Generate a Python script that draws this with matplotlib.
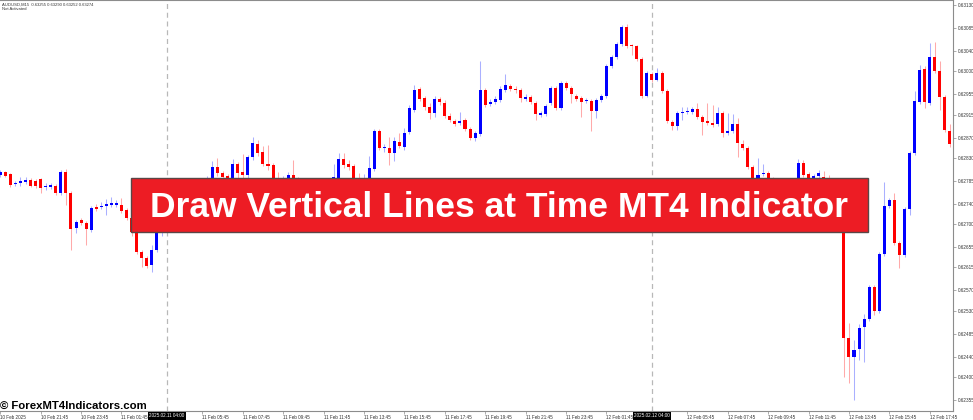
import numpy as np
import matplotlib
matplotlib.use('Agg')
import matplotlib.pyplot as plt
import matplotlib.transforms as mtransforms
from matplotlib.patches import Rectangle

# AUDUSD M15 candles, bar 0 = 10 Feb 19:45
opens = [0.62796, 0.62802, 0.62798, 0.62779, 0.62781, 0.62783, 0.62787, 0.62785, 0.62789, 0.62773,
         0.62773, 0.62775, 0.62761, 0.62802, 0.62761, 0.62692, 0.62708, 0.62702, 0.62689, 0.62734,
         0.62734, 0.62736, 0.62738, 0.62738, 0.62738, 0.62728, 0.62712, 0.62685, 0.62645, 0.62634,
         0.62620, 0.62649, 0.62683, 0.62718, 0.62708, 0.62738, 0.62757, 0.62747, 0.62767, 0.62755,
         0.62777, 0.62767, 0.62791, 0.62812, 0.62800, 0.62795, 0.62791, 0.62818, 0.62802, 0.62796,
         0.62832, 0.62857, 0.62842, 0.62818, 0.62816, 0.62783, 0.62771, 0.62779, 0.62796, 0.62783,
         0.62767, 0.62775, 0.62759, 0.62771, 0.62763, 0.62779, 0.62771, 0.62791, 0.62828, 0.62818,
         0.62814, 0.62787, 0.62771, 0.62783, 0.62808, 0.62883, 0.62849, 0.62849, 0.62840, 0.62861,
         0.62851, 0.62881, 0.62924, 0.62965, 0.62948, 0.62930, 0.62918, 0.62946, 0.62938, 0.62912,
         0.62902, 0.62898, 0.62904, 0.62887, 0.62869, 0.62877, 0.62963, 0.62936, 0.62940, 0.62944,
         0.62963, 0.62971, 0.62965, 0.62963, 0.62946, 0.62950, 0.62938, 0.62914, 0.62916, 0.62938,
         0.62967, 0.62928, 0.62977, 0.62967, 0.62951, 0.62948, 0.62942, 0.62942, 0.62922, 0.62944,
         0.62951, 0.63010, 0.63028, 0.63053, 0.63087, 0.63051, 0.63050, 0.63024, 0.62951, 0.62995,
         0.62983, 0.62997, 0.62961, 0.62900, 0.62893, 0.62918, 0.62920, 0.62920, 0.62926, 0.62910,
         0.62902, 0.62898, 0.62897, 0.62918, 0.62879, 0.62883, 0.62897, 0.62857, 0.62849, 0.62812,
         0.62785, 0.62798, 0.62800, 0.62789, 0.62767, 0.62755, 0.62771, 0.62761, 0.62781, 0.62820,
         0.62798, 0.62787, 0.62795, 0.62793, 0.62791, 0.62781, 0.62787, 0.62775, 0.62477, 0.62439,
         0.62455, 0.62498, 0.62514, 0.62577, 0.62530, 0.62641, 0.62736, 0.62747, 0.62663, 0.62639,
         0.62730, 0.62840, 0.62940, 0.63004, 0.62938, 0.63028, 0.63000, 0.62950, 0.62883]
highs = [0.62806, 0.62804, 0.62800, 0.62785, 0.62793, 0.62793, 0.62791, 0.62789, 0.62791, 0.62781,
         0.62781, 0.62779, 0.62806, 0.62808, 0.62765, 0.62708, 0.62712, 0.62706, 0.62736, 0.62740,
         0.62743, 0.62749, 0.62753, 0.62747, 0.62751, 0.62732, 0.62716, 0.62689, 0.62649, 0.62637,
         0.62659, 0.62689, 0.62722, 0.62724, 0.62742, 0.62761, 0.62763, 0.62771, 0.62773, 0.62781,
         0.62783, 0.62795, 0.62824, 0.62830, 0.62804, 0.62798, 0.62828, 0.62822, 0.62838, 0.62836,
         0.62871, 0.62865, 0.62853, 0.62855, 0.62820, 0.62802, 0.62795, 0.62802, 0.62826, 0.62793,
         0.62783, 0.62781, 0.62777, 0.62775, 0.62785, 0.62783, 0.62818, 0.62840, 0.62840, 0.62826,
         0.62818, 0.62800, 0.62798, 0.62834, 0.62887, 0.62887, 0.62857, 0.62871, 0.62871, 0.62879,
         0.62889, 0.62934, 0.62973, 0.62969, 0.62951, 0.62938, 0.62951, 0.62950, 0.62944, 0.62918,
         0.62906, 0.62920, 0.62908, 0.62891, 0.62883, 0.63020, 0.62967, 0.62946, 0.62951, 0.62971,
         0.62995, 0.62975, 0.62971, 0.62967, 0.62955, 0.62953, 0.62942, 0.62922, 0.62936, 0.62971,
         0.62971, 0.62981, 0.62981, 0.62971, 0.62955, 0.62951, 0.62948, 0.62946, 0.62948, 0.62955,
         0.63014, 0.63032, 0.63057, 0.63091, 0.63093, 0.63053, 0.63051, 0.63028, 0.63000, 0.62999,
         0.63006, 0.63000, 0.62965, 0.62904, 0.62922, 0.62930, 0.62930, 0.62930, 0.62938, 0.62914,
         0.62938, 0.62934, 0.62930, 0.62922, 0.62918, 0.62916, 0.62908, 0.62865, 0.62853, 0.62816,
         0.62830, 0.62818, 0.62804, 0.62793, 0.62773, 0.62777, 0.62775, 0.62791, 0.62828, 0.62826,
         0.62802, 0.62798, 0.62806, 0.62804, 0.62796, 0.62791, 0.62791, 0.62781, 0.62506, 0.62473,
         0.62504, 0.62524, 0.62581, 0.62581, 0.62645, 0.62783, 0.62751, 0.62761, 0.62667, 0.62734,
         0.62844, 0.62961, 0.63012, 0.63010, 0.63055, 0.63057, 0.63020, 0.62953, 0.62897]
lows = [0.62793, 0.62793, 0.62773, 0.62775, 0.62775, 0.62779, 0.62773, 0.62771, 0.62761, 0.62767,
        0.62769, 0.62757, 0.62757, 0.62738, 0.62649, 0.62683, 0.62698, 0.62659, 0.62685, 0.62726,
        0.62730, 0.62718, 0.62734, 0.62734, 0.62722, 0.62708, 0.62677, 0.62641, 0.62616, 0.62614,
        0.62606, 0.62645, 0.62677, 0.62704, 0.62702, 0.62732, 0.62742, 0.62743, 0.62749, 0.62751,
        0.62761, 0.62763, 0.62783, 0.62795, 0.62787, 0.62783, 0.62783, 0.62791, 0.62787, 0.62791,
        0.62826, 0.62834, 0.62814, 0.62806, 0.62777, 0.62763, 0.62763, 0.62775, 0.62777, 0.62757,
        0.62761, 0.62753, 0.62755, 0.62757, 0.62759, 0.62765, 0.62763, 0.62787, 0.62810, 0.62806,
        0.62777, 0.62763, 0.62767, 0.62779, 0.62804, 0.62846, 0.62842, 0.62816, 0.62824, 0.62849,
        0.62846, 0.62877, 0.62920, 0.62942, 0.62924, 0.62906, 0.62910, 0.62934, 0.62908, 0.62900,
        0.62893, 0.62895, 0.62883, 0.62865, 0.62863, 0.62873, 0.62930, 0.62932, 0.62936, 0.62940,
        0.62959, 0.62961, 0.62957, 0.62940, 0.62942, 0.62936, 0.62904, 0.62910, 0.62912, 0.62934,
        0.62924, 0.62924, 0.62963, 0.62938, 0.62942, 0.62910, 0.62938, 0.62883, 0.62908, 0.62940,
        0.62948, 0.63006, 0.63024, 0.63050, 0.63046, 0.63032, 0.63020, 0.62948, 0.62950, 0.62979,
        0.62981, 0.62957, 0.62898, 0.62885, 0.62885, 0.62904, 0.62916, 0.62916, 0.62906, 0.62875,
        0.62895, 0.62891, 0.62893, 0.62871, 0.62875, 0.62879, 0.62832, 0.62846, 0.62808, 0.62779,
        0.62779, 0.62795, 0.62777, 0.62761, 0.62749, 0.62751, 0.62755, 0.62757, 0.62775, 0.62793,
        0.62783, 0.62781, 0.62787, 0.62785, 0.62775, 0.62773, 0.62767, 0.62400, 0.62388, 0.62355,
        0.62434, 0.62430, 0.62510, 0.62522, 0.62526, 0.62637, 0.62732, 0.62659, 0.62614, 0.62636,
        0.62718, 0.62836, 0.62936, 0.62928, 0.62934, 0.62997, 0.62924, 0.62881, 0.62851]
closes = [0.62802, 0.62795, 0.62777, 0.62781, 0.62785, 0.62787, 0.62775, 0.62775, 0.62771, 0.62775,
          0.62777, 0.62761, 0.62802, 0.62761, 0.62691, 0.62704, 0.62702, 0.62691, 0.62732, 0.62730,
          0.62736, 0.62740, 0.62742, 0.62742, 0.62726, 0.62712, 0.62685, 0.62645, 0.62634, 0.62618,
          0.62649, 0.62683, 0.62718, 0.62708, 0.62738, 0.62757, 0.62747, 0.62767, 0.62755, 0.62777,
          0.62767, 0.62791, 0.62812, 0.62800, 0.62793, 0.62791, 0.62818, 0.62800, 0.62796, 0.62832,
          0.62859, 0.62840, 0.62818, 0.62814, 0.62783, 0.62771, 0.62781, 0.62796, 0.62783, 0.62767,
          0.62775, 0.62759, 0.62771, 0.62763, 0.62779, 0.62769, 0.62793, 0.62828, 0.62816, 0.62812,
          0.62787, 0.62771, 0.62783, 0.62810, 0.62883, 0.62849, 0.62851, 0.62840, 0.62863, 0.62853,
          0.62879, 0.62928, 0.62963, 0.62946, 0.62930, 0.62918, 0.62946, 0.62940, 0.62912, 0.62904,
          0.62897, 0.62902, 0.62887, 0.62869, 0.62879, 0.62963, 0.62934, 0.62940, 0.62946, 0.62965,
          0.62973, 0.62965, 0.62963, 0.62948, 0.62950, 0.62940, 0.62916, 0.62918, 0.62932, 0.62967,
          0.62928, 0.62977, 0.62967, 0.62955, 0.62946, 0.62940, 0.62944, 0.62922, 0.62944, 0.62951,
          0.63010, 0.63028, 0.63053, 0.63087, 0.63050, 0.63050, 0.63024, 0.62951, 0.62997, 0.62983,
          0.62997, 0.62961, 0.62902, 0.62893, 0.62918, 0.62920, 0.62922, 0.62926, 0.62910, 0.62900,
          0.62898, 0.62895, 0.62918, 0.62879, 0.62883, 0.62897, 0.62859, 0.62849, 0.62812, 0.62785,
          0.62796, 0.62800, 0.62789, 0.62767, 0.62755, 0.62771, 0.62761, 0.62781, 0.62820, 0.62796,
          0.62791, 0.62795, 0.62800, 0.62791, 0.62781, 0.62787, 0.62775, 0.62477, 0.62439, 0.62453,
          0.62496, 0.62514, 0.62577, 0.62530, 0.62641, 0.62736, 0.62747, 0.62663, 0.62639, 0.62730,
          0.62840, 0.62942, 0.63002, 0.62940, 0.63028, 0.63000, 0.62950, 0.62885, 0.62857]

price_ticks = [0.63130, 0.63085, 0.63040, 0.63000, 0.62955, 0.62915, 0.62870, 0.62830, 0.62785,
               0.62740, 0.62700, 0.62655, 0.62615, 0.62570, 0.62530, 0.62485, 0.62440, 0.62400, 0.62355]
time_tick_bars = [0, 8, 16, 24, 40, 48, 56, 64, 72, 80, 88, 96, 104, 112, 120,
                  136, 144, 152, 160, 168, 176, 184]
time_tick_labels = ['10 Feb 2025', '10 Feb 21:45', '10 Feb 23:45', '11 Feb 01:45', '11 Feb 05:45',
                    '11 Feb 07:45', '11 Feb 09:45', '11 Feb 11:45', '11 Feb 13:45', '11 Feb 15:45',
                    '11 Feb 17:45', '11 Feb 19:45', '11 Feb 21:45', '11 Feb 23:45', '12 Feb 01:45',
                    '12 Feb 05:45', '12 Feb 07:45', '12 Feb 09:45', '12 Feb 11:45', '12 Feb 13:45',
                    '12 Feb 15:45', '12 Feb 17:45']
vline_bars = [33, 129]
vline_labels = ['2025.02.11 04:00', '2025.02.12 04:00']

plt.rcParams['font.family'] = ['Liberation Sans', 'DejaVu Sans']

fig = plt.figure(figsize=(9.73, 4.2), dpi=100)
ax = fig.add_axes([0, 9 / 420, 953 / 973, 411 / 420])

o = np.array(opens)
h = np.array(highs)
l = np.array(lows)
c = np.array(closes)
x = np.arange(len(o))
up = c >= o
body_col = np.where(up, '#0000ff', '#ff0000')
wick_col = np.where(up, '#aab0ff', '#ffaaaa')

ax.vlines(x, l, h, colors=wick_col, lw=0.75, zorder=2)
body = np.maximum(np.abs(c - o), 0.000015)
ax.bar(x, body, bottom=np.minimum(o, c), width=0.6, color=body_col, lw=0, zorder=3)

for b in vline_bars:
    ax.axvline(b, color='#b8b8b8', lw=0.9, ls=(0, (4, 3)), zorder=1)

ax.set_xlim(-0.05, 188.6)
ax.set_ylim(0.623334, 0.631398)

# axes frame
for s in ['top', 'right', 'bottom']:
    ax.spines[s].set_color('#8c8c8c')
    ax.spines[s].set_linewidth(0.8)
ax.spines['left'].set_visible(False)

ax.yaxis.tick_right()
ax.set_yticks(price_ticks)
ax.set_yticklabels(['%.5f' % v for v in price_ticks])
ax.tick_params(axis='y', length=2, width=0.5, pad=1.5, labelsize=3.3,
               color='#8c8c8c', labelcolor='#333333')

ax.set_xticks(time_tick_bars)
ax.set_xticklabels(time_tick_labels, ha='left')
ax.tick_params(axis='x', length=2, width=0.5, pad=1.2, labelsize=3.3,
               color='#8c8c8c', labelcolor='#333333')

trans = mtransforms.blended_transform_factory(ax.transData, ax.transAxes)
for b, lab in zip(vline_bars, vline_labels):
    ax.text(b, -0.006, lab, transform=trans, ha='center', va='top', fontsize=3.3,
            color='white', zorder=10, clip_on=False,
            bbox=dict(facecolor='black', edgecolor='none', pad=0.9))

# header
fig.text(2 / 973, 1 - 6 / 420, 'AUDUSD,M15  0.63255 0.63290 0.63252 0.63274',
         fontsize=3.0, color='#333333')
fig.text(2 / 973, 1 - 10 / 420, 'Not Activated', fontsize=3.0, color='#333333')

# title banner
banner = Rectangle((131 / 973, (420 - 232) / 420), (868 - 131) / 973, 54 / 420,
                   transform=fig.transFigure, facecolor='#ed1c24',
                   edgecolor='#5a4646', lw=1.0, zorder=5)
fig.add_artist(banner)
fig.text(499.5 / 973, (420 - 217) / 420, 'Draw Vertical Lines at Time MT4 Indicator',
         ha='center', va='baseline', fontsize=25.5, fontweight='bold',
         color='white', zorder=6)

# watermark
fig.text(0.5 / 973, (420 - 409) / 420, '\u00a9 ForexMT4Indicators.com',
         ha='left', va='baseline', fontsize=8.2, fontweight='bold',
         color='black', zorder=6)

fig.savefig('out.png', dpi=100)
